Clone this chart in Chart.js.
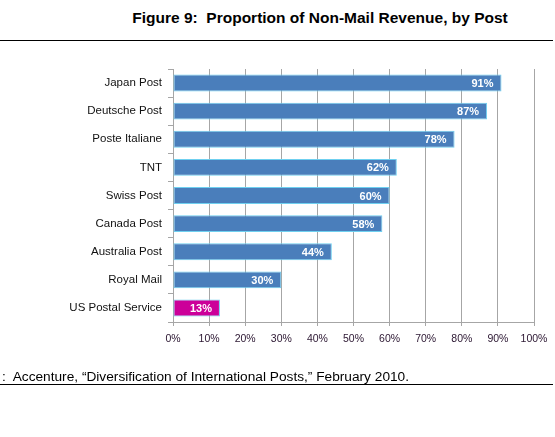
<!DOCTYPE html>
<html>
<head>
<meta charset="utf-8">
<script src="https://cdn.jsdelivr.net/npm/chart.js@4"></script>
<style>
  body { margin: 0; background: #fff; width: 555px; height: 437px; overflow: hidden; position: relative; font-family: "Liberation Sans", Arial, sans-serif; }
  #title { position: absolute; left: 0; width: 640px; top: 9px; text-align: center; font-weight: bold; font-size: 15.5px; color: #000; white-space: pre; }
  .rule { position: absolute; left: 0; width: 553px; height: 0; border-top: 1.5px solid #000; }
  #note { position: absolute; left: 2px; top: 369px; font-size: 13.7px; color: #000; white-space: pre; }
  #wrap { position: absolute; left: 0; top: 0; width: 555px; height: 437px; }
</style>
</head>
<body>
<div id="title">Figure 9:  Proportion of Non-Mail Revenue, by Post</div>
<div class="rule" style="top:40px"></div>
<div id="wrap"><canvas id="chart" width="555" height="437"></canvas></div>
<div id="note">:  Accenture, “Diversification of International Posts,” February 2010.</div>
<div class="rule" style="top:384px"></div>
<script>
const posts = ['Japan Post', 'Deutsche Post', 'Poste Italiane', 'TNT', 'Swiss Post',
  'Canada Post', 'Australia Post', 'Royal Mail', 'US Postal Service'];
const shares = [91, 87, 78, 62, 60, 58, 44, 30, 13];
const xTicks = [0, 10, 20, 30, 40, 50, 60, 70, 80, 90, 100];

const blue = '#4a7ebb';
const pink = '#cc0099';

// white value labels at the right end of each bar
const barLabels = {
  id: 'barLabels',
  afterDatasetsDraw(chart) {
    const { ctx } = chart;
    const meta = chart.getDatasetMeta(0);
    ctx.save();
    ctx.font = 'bold 11px "Liberation Sans", Arial';
    ctx.fillStyle = '#fff';
    ctx.textAlign = 'right';
    ctx.textBaseline = 'middle';
    meta.data.forEach((bar, i) => {
      ctx.fillText(shares[i] + '%', bar.x - 8, bar.y + 1);
    });
    ctx.restore();
  }
};

new Chart(document.getElementById('chart'), {
  type: 'bar',
  data: {
    labels: posts,
    datasets: [{
      data: shares,
      backgroundColor: shares.map((v, i) => i === posts.length - 1 ? pink : blue),
      borderColor: '#6fd0f0',
      borderWidth: 1,
      borderSkipped: false,
      barPercentage: 0.6,
      categoryPercentage: 1,
    }]
  },
  options: {
    indexAxis: 'y',
    responsive: false,
    animation: false,
    layout: { padding: { top: 69, right: 21, left: 0, bottom: 0 } },
    plugins: { legend: { display: false }, tooltip: { enabled: false } },
    scales: {
      x: {
        min: 0,
        max: 100,
        afterBuildTicks: (scale) => { scale.ticks = xTicks.map(v => ({ value: v })); },
        afterFit: (scale) => { scale.height = 437 - 322; },
        grid: { color: '#a6a6a6', lineWidth: 1, tickLength: 4 },
        border: { color: '#a6a6a6' },
        ticks: {
          color: '#2a1530',
          padding: 7,
          font: { size: 10.5, family: '"Liberation Sans", Arial' },
          callback: (v) => v + '%',
        }
      },
      y: {
        afterFit: (scale) => { scale.width = 173; },
        grid: { drawOnChartArea: false, color: '#a6a6a6', tickLength: 5, offset: true },
        border: { color: '#a6a6a6' },
        ticks: {
          color: '#111',
          padding: 6,
          font: { size: 11.5, family: '"Liberation Sans", Arial' },
        }
      }
    }
  },
  plugins: [barLabels]
});
</script>
</body>
</html>
